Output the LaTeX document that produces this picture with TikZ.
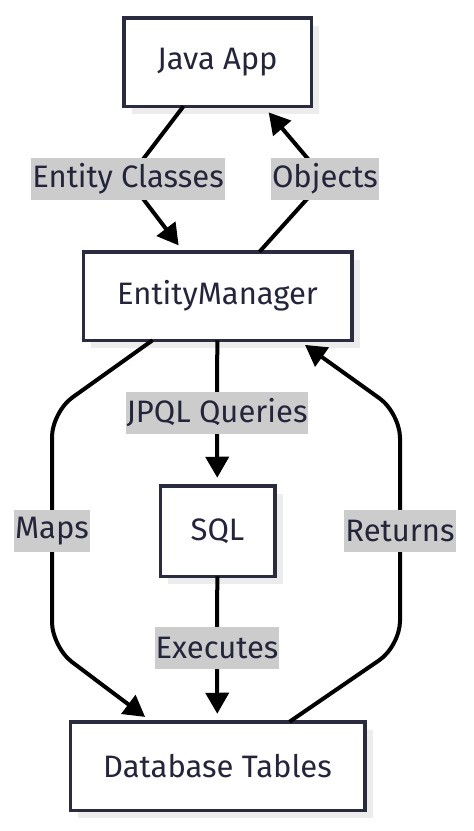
\documentclass[tikz,border=0pt]{standalone}
\usepackage{fontspec}
\setmainfont{Fira Sans}
\usepackage{tikz}
\usetikzlibrary{positioning,arrows.meta,calc,shadows}
\definecolor{boxline}{HTML}{2B2B40}
\definecolor{txt}{HTML}{24243A}
\definecolor{lblfill}{HTML}{CCCCCC}
\definecolor{shade}{HTML}{ECECEC}

\begin{document}
\begin{tikzpicture}[
		x=1pt, y=-1pt,
		every node/.style={font=\fontsize{31}{36}\selectfont, text=txt, align=center},
		>={Triangle[length=21pt, width=23pt]},
		box/.style={draw=boxline, line width=3.5pt, fill=white, outer sep=0pt,
			drop shadow={shadow xshift=8pt, shadow yshift=-8pt, fill=shade, opacity=1}},
		lbl/.style={fill=lblfill, sharp corners, inner xsep=1pt, inner ysep=0pt, minimum height=42pt},
		edge/.style={line width=4pt, black, rounded corners=25pt, shorten >=8pt}
		]
		\useasboundingbox (0,0) rectangle (474,831);
		
		% Блоки
		\node[box, minimum width=187.5pt, minimum height=88.5pt] (app) at (217.5,62) {Java App};
		\node[box, below=145.5pt of app, minimum width=268.5pt, minimum height=88.5pt] (mgr) {EntityManager};
		\node[box, below=145.5pt of mgr, minimum width=114.5pt, minimum height=90.5pt] (sql) {SQL};
		\node[box, below=145.5pt of sql, minimum width=294.5pt, minimum height=88.5pt] (db) {Database Tables};
		
		% Стрелки между Java App и EntityManager
		\draw[edge, ->] ($(app.south)+(-34,0)$) -- (128,179) node[lbl] {Entity Classes} -- ($(mgr.north)+(-34,0)$);
		\draw[edge, ->] ($(mgr.north)+(42,0)$) -- (325,179) node[lbl] {Objects} -- ($(app.south)+(46,0)$);
		
		% Средняя колонка
		\draw[edge, ->] (mgr) -- (217,413) node[lbl] {JPQL Queries} -- (sql);
		\draw[edge, ->] (sql) -- (217,648) node[lbl] {Executes} -- (db);
		
		% Обходные пути слева и справа
		\draw[edge, ->] ($(mgr.south)+(-65,0)$) -- (52,412) -- (52,531) node[lbl] {Maps} -- (52,647) -- ($(db.north)+(-66,0)$);
		\draw[edge, ->] ($(db.north)+(72,0)$) -- (400,646) -- (400,531) node[lbl] {Returns} -- (400,413) -- ($(mgr.south)+(81,0)$);
	\end{tikzpicture}
\end{document}
